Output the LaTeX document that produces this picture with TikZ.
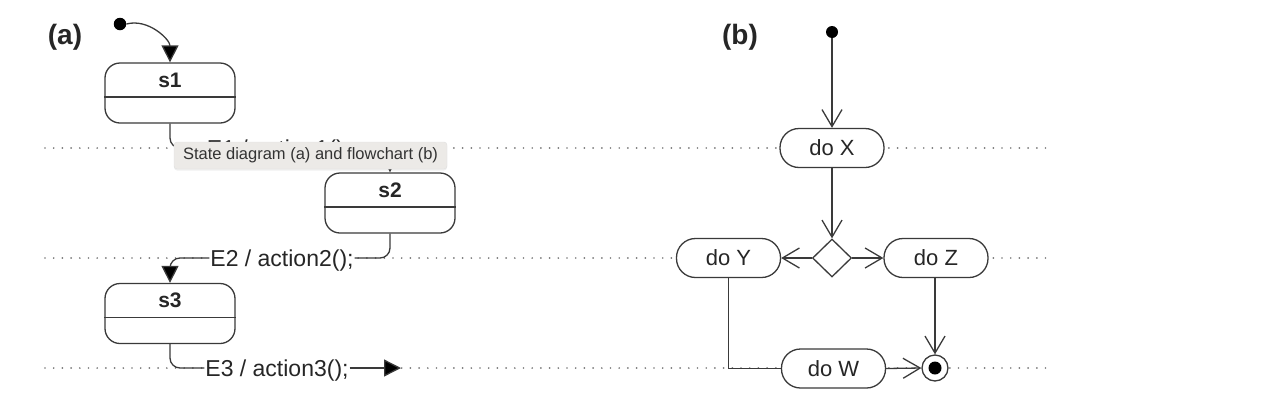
\documentclass[tikz,border=0pt]{standalone}
\usepackage{fontspec}
\setmainfont{Liberation Sans}
\usetikzlibrary{arrows.meta,shapes.geometric,shadows}
\definecolor{ln}{HTML}{3A3A3A}
\definecolor{dotc}{HTML}{777777}
\definecolor{tipbg}{HTML}{ECEAE7}
\begin{document}
\begin{tikzpicture}[x=1pt,y=-1pt,
  state/.style={draw=ln, line width=1.3pt, rounded corners=15pt, minimum width=130pt, minimum height=60pt, fill=white, inner sep=0pt},
  stname/.style={font=\bfseries\fontsize{21}{24}\selectfont, text=black!85},
  evlabel/.style={fill=white, inner xsep=1pt, inner ysep=1pt, outer sep=0pt, text height=16.5pt, text depth=0pt, font=\fontsize{23}{27}\selectfont, text=black!85},
  action/.style={draw=ln, line width=1.3pt, rounded corners=19pt, minimum width=104pt, minimum height=39pt, fill=white, inner sep=0pt, font=\fontsize{22}{26}\selectfont, text=black!85},
  decision/.style={diamond, draw=ln, line width=1.3pt, fill=white, minimum width=39pt, minimum height=38pt, inner sep=0pt},
  dotline/.style={draw=dotc, line width=1.9pt, line cap=round, dash pattern=on 0pt off 8.7pt},
  trans/.style={draw=ln, line width=1.3pt, rounded corners=10pt, -{Triangle[width=17pt,length=17pt,fill=black]}},
  plain/.style={draw=ln, line width=1.3pt, rounded corners=10pt},
  flow/.style={draw=ln, line width=1.3pt, -{Straight Barb[width=20pt,length=17pt]}},
  panel/.style={font=\bfseries\fontsize{28}{32}\selectfont, text=black!85}
]
\useasboundingbox (0,0) rectangle (1280,405);

% dotted swimlane lines
\draw[dotline] (45,148) -- (1052,148);
\draw[dotline] (45,258) -- (1052,258);
\draw[dotline] (45,368) -- (1052,368);

% panel labels
\node[panel] (pa) at (65,37) {(a)};
\node[panel] (pb) at (740,37) {(b)};

% ---------- (a) state diagram ----------
\node[circle, fill=black, minimum size=12.5pt, inner sep=0pt] (ia) at (120,24) {};
\node[state] (s1) at (170,93) {};
\node[stname] at ([yshift=13pt]s1.center) {s1};
\draw[ln, line width=1.3pt] ([yshift=-4pt]s1.west) -- ([yshift=-4pt]s1.east);

\node[state] (s2) at (390,203) {};
\node[stname] at ([yshift=13pt]s2.center) {s2};
\draw[ln, line width=1.3pt] ([yshift=-4pt]s2.west) -- ([yshift=-4pt]s2.east);

\node[state] (s3) at (170,313.5) {};
\node[stname] at ([yshift=13pt]s3.center) {s3};
\draw[ln, line width=1.3pt] ([yshift=-4pt]s3.west) -- ([yshift=-4pt]s3.east);

\node[evlabel] (e1) at (278.5,148) {E1 / action1();};
\node[evlabel] (e2) at (282,258) {E2 / action2();};
\node[evlabel] (e3) at (277,368) {E3 / action3();};
\coordinate (endA) at (401,368);

\draw[trans] (ia.east) to[out=15,in=90] (s1.north);
\draw[plain] (s1.south) |- (e1.west);
\draw[trans] (e1.east) -| (s2.north);
\draw[plain] (s2.south) |- (e2.east);
\draw[trans] (e2.west) -| (s3.north);
\draw[plain] (s3.south) |- (e3.west);
\draw[trans] (e3.east) -- (endA);

% ---------- (b) flowchart ----------
\node[circle, fill=black, minimum size=12pt, inner sep=0pt] (ib) at (832,32) {};
\node[action] (dx) at (832,148) {do X};
\node[decision] (dd) at (832,258) {};
\node[action] (dy) at (728.5,258) {do Y};
\node[action] (dz) at (936,258) {do Z};
\node[action] (dw) at (833.5,368.5) {do W};
\node[circle, draw=ln, line width=1.3pt, fill=white, minimum size=26pt, inner sep=0pt] (fin) at (935,368) {};
\fill[black] (fin.center) circle (6.5pt);

\draw[flow] (ib) -- (dx.north);
\draw[flow] (dx.south) -- (dd.north);
\draw[flow] (dd.west) -- (dy.east);
\draw[flow] (dd.east) -- (dz.west);
\draw[ln, line width=1.3pt] (dy.south) |- (dw.west);
\draw[flow] (dw.east) -- (fin.west);
\draw[flow] (dz.south -| fin.center) -- (fin.north);

% ---------- tooltip overlay ----------
\node[fill=tipbg, draw=black!12, rounded corners=3pt, minimum width=273pt, minimum height=27pt, inner sep=0pt,
      drop shadow={opacity=0.12, shadow xshift=0pt, shadow yshift=-1.5pt},
      font=\fontsize{16.5}{19}\selectfont, text=black!80] (tip) at (310.5,155.5) {State diagram (a) and flowchart (b)};
\end{tikzpicture}
\end{document}
